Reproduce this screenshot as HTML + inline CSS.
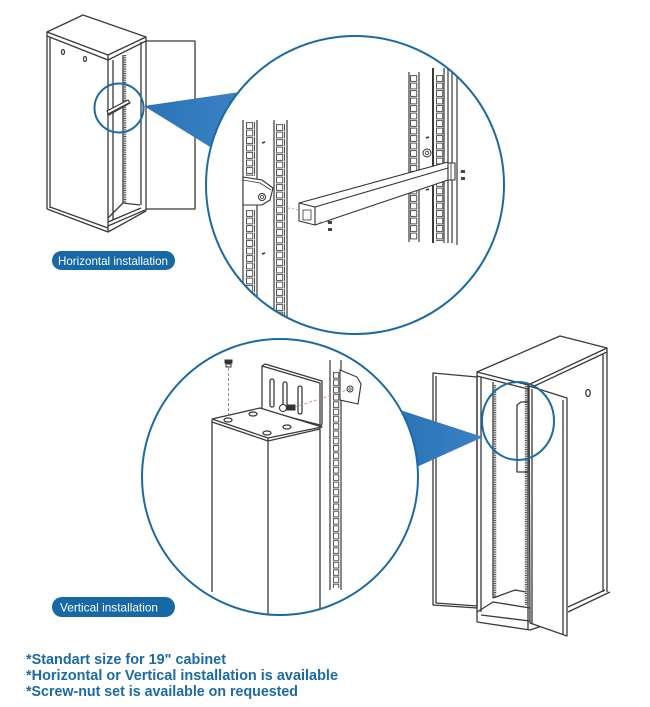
<!DOCTYPE html>
<html><head><meta charset="utf-8"><style>
html,body{margin:0;padding:0;background:#fff;}
svg{display:block;}
</style></head><body>
<svg width="650" height="707" viewBox="0 0 650 707" xmlns="http://www.w3.org/2000/svg">
<defs>
<pattern id="holes" width="8" height="7.5" patternUnits="userSpaceOnUse">
<rect x="0.5" y="0.6" width="6.2" height="5.8" fill="#fff" stroke="#555" stroke-width="1"/>
</pattern>
<pattern id="holes2" width="7" height="7.3" patternUnits="userSpaceOnUse">
<rect x="0.5" y="0.6" width="5.2" height="5.6" fill="#fff" stroke="#555" stroke-width="1"/>
</pattern>
<clipPath id="c1"><circle cx="355" cy="185" r="149"/></clipPath>
<clipPath id="c2"><circle cx="280" cy="477" r="138"/></clipPath>
<linearGradient id="tg" x1="0" y1="0" x2="1" y2="0">
<stop offset="0" stop-color="#2a73b6"/><stop offset="1" stop-color="#3a82c4"/>
</linearGradient>
</defs>

<!-- ========== CABINET 1 ========== -->
<g fill="none" stroke="#3a3a3a" stroke-width="1.3" stroke-linejoin="round">
<polygon points="47,32 83,15 146,37 108,55" fill="#fff"/>
<polyline points="47,36 108,60 146,41"/>
<line x1="47" y1="32" x2="47" y2="209"/>
<line x1="50" y1="38" x2="50" y2="208"/>
<polyline points="47,209 108,232 146,211"/>
<polyline points="50,207 108,228"/>
<line x1="108" y1="55" x2="108" y2="232"/>
<line x1="113" y1="60" x2="113" y2="220"/>
<line x1="146" y1="37" x2="146" y2="211"/>
<line x1="141" y1="42" x2="141" y2="205"/>
<polyline points="108,218 123,203 140,205"/>
<polyline points="108,222 141,208"/>
<polyline points="108,226 145,210"/>
<line x1="123" y1="55" x2="123" y2="203"/>
<polyline points="146,41 195,41 195,209 146,209"/>
<ellipse cx="63" cy="52" rx="1.5" ry="2.5"/>
<ellipse cx="85" cy="59" rx="1.5" ry="2.5"/>
</g>
<line x1="125" y1="55" x2="125" y2="203" stroke="#555" stroke-width="2.5" stroke-dasharray="1 0.8"/>
<g stroke="#333" stroke-width="1.1" fill="#fff">
<polygon points="107,111 128,100 130,103 109,115"/>
<polyline points="108,114 129,103" fill="none"/>
</g>

<polygon points="144,106 240,92 215,150" fill="url(#tg)"/>
<circle cx="119" cy="108" r="24.5" fill="none" stroke="#1b6aa3" stroke-width="2"/>

<!-- ========== TOP BIG CIRCLE ========== -->
<circle cx="355" cy="185" r="149" fill="#fff"/>
<g clip-path="url(#c1)">
<g fill="none" stroke="#3a3a3a" stroke-width="1.2">
<line x1="243" y1="120" x2="243" y2="340"/>
<line x1="257" y1="120" x2="257" y2="340"/>
<line x1="274" y1="120" x2="274" y2="340"/>
<line x1="287" y1="120" x2="287" y2="340"/>
</g>
<g transform="translate(246,122)"><rect width="9" height="54" fill="url(#holes)"/></g>
<g transform="translate(246,210)"><rect width="9" height="120" fill="url(#holes)"/></g>
<g transform="translate(276,124)"><rect width="9" height="210" fill="url(#holes)"/></g>
<polygon points="243,177 262,180 273,188 270,200 262,205 243,205" fill="#fff" stroke="#333" stroke-width="1.1"/>
<polyline points="243,180 260,183 271,190" fill="none" stroke="#333" stroke-width="0.8"/>
<circle cx="262" cy="197" r="3.5" fill="#fff" stroke="#333" stroke-width="1"/>
<circle cx="262" cy="197" r="1.5" fill="none" stroke="#333" stroke-width="0.8"/>
<g stroke="#333" stroke-width="1.6">
<line x1="262" y1="143" x2="265" y2="142"/>
<line x1="262" y1="254" x2="265" y2="253"/>
<line x1="426" y1="138" x2="429" y2="137"/>
<line x1="426" y1="190" x2="429" y2="189"/>
</g>
<g fill="none" stroke="#3a3a3a" stroke-width="1.2">
<line x1="409" y1="72" x2="409" y2="242"/>
<line x1="419" y1="72" x2="419" y2="242"/>
<line x1="433" y1="68" x2="433" y2="243" stroke-width="2"/>
<line x1="444" y1="68" x2="444" y2="243"/>
<line x1="448" y1="66" x2="448" y2="243"/>
<line x1="452" y1="66" x2="452" y2="243"/>
<line x1="457" y1="60" x2="457" y2="245"/>
</g>
<g transform="translate(410,75)"><rect width="8" height="165" fill="url(#holes)"/></g>
<g transform="translate(436,75)"><rect width="8" height="166" fill="url(#holes)"/></g>
<circle cx="427" cy="153" r="4" fill="#fff" stroke="#333" stroke-width="1"/>
<circle cx="427" cy="153" r="1.8" fill="none" stroke="#333" stroke-width="0.8"/>
<g stroke="#333" stroke-width="1.1" stroke-linejoin="round">
<polygon points="299,203 448,162 448,180 315,225 299,221" fill="#fff"/>
<line x1="315" y1="207" x2="448" y2="168"/>
<line x1="299" y1="203" x2="315" y2="207"/>
<line x1="315" y1="207" x2="315" y2="225"/>
<rect x="303" y="210" width="8" height="10" fill="#fff" stroke-width="0.8"/>
<rect x="448" y="163" width="7" height="17" fill="#fff"/>
<line x1="451" y1="163" x2="451" y2="180" stroke-width="0.8"/>
</g>
<g stroke="#999" stroke-width="0.7" stroke-dasharray="2 2">
<line x1="288" y1="208" x2="300" y2="210"/>
<line x1="455" y1="172" x2="462" y2="172"/>
<line x1="315" y1="222" x2="328" y2="222"/>
</g>
<g fill="#444">
<rect x="461" y="170" width="4" height="3"/><rect x="461" y="177" width="4" height="3"/>
<rect x="328" y="221" width="4" height="3"/><rect x="328" y="228" width="4" height="3"/>
</g>
</g>
<circle cx="355" cy="185" r="149" fill="none" stroke="#1b6aa3" stroke-width="2"/>

<rect x="52" y="251" width="123" height="19" rx="9.5" fill="#1668a6"/>
<text x="58" y="265" font-family="Liberation Sans, sans-serif" font-size="12" fill="#fff" textLength="110" lengthAdjust="spacingAndGlyphs">Horizontal installation</text>

<!-- ========== CABINET 2 ========== -->
<g fill="none" stroke="#3a3a3a" stroke-width="1.3" stroke-linejoin="round">
<polygon points="433,373 477,377 477,608 433,605" fill="#fff"/>
<polyline points="436,376 436,603 477,606"/>
<polygon points="477,372 560,336 607,348 528,385" fill="#fff"/>
<polyline points="477,376 528,389 607,352"/>
<line x1="607" y1="348" x2="607" y2="592"/>
<line x1="603" y1="354" x2="603" y2="592"/>
<polyline points="568,612 610,592"/>
<polyline points="568,607 605,590"/>
<line x1="477" y1="372" x2="477" y2="622"/>
<line x1="481" y1="377" x2="481" y2="612"/>
<line x1="493" y1="382" x2="493" y2="598"/>
<line x1="528" y1="385" x2="528" y2="630"/>
<polyline points="477,612 493,602 530,608"/>
<polyline points="481,615 530,621"/>
<polyline points="477,622 530,630 545,625"/>
<polyline points="493,598 515,590 526,592"/>
<polygon points="529,386 567,398 567,636 530,623" fill="#fff"/>
<polyline points="532,389 532,624"/>
<line x1="563" y1="400" x2="563" y2="634"/>
<polygon points="517,405 521,402 528,402 528,472 517,472" fill="#fff"/>
<ellipse cx="588" cy="393" rx="2.2" ry="3.5"/>
</g>
<line x1="495" y1="385" x2="495" y2="598" stroke="#555" stroke-width="2.5" stroke-dasharray="1 0.8"/>
<line x1="526" y1="386" x2="526" y2="605" stroke="#555" stroke-width="2.5" stroke-dasharray="1 0.8"/>

<polygon points="483,437 400,410 410,470" fill="url(#tg)"/>
<ellipse cx="518" cy="421" rx="36" ry="39" fill="none" stroke="#1b6aa3" stroke-width="2"/>

<!-- ========== BOTTOM BIG CIRCLE ========== -->
<circle cx="280" cy="477" r="138" fill="#fff"/>
<g clip-path="url(#c2)">
<g fill="none" stroke="#3a3a3a" stroke-width="1.2">
<line x1="330" y1="360" x2="330" y2="590"/>
<line x1="341" y1="360" x2="341" y2="590"/>
</g>
<g transform="translate(333,372)"><rect width="7" height="216" fill="url(#holes2)"/></g>
<polygon points="340,370 357,377 361,384 358,404 340,400" fill="#fff" stroke="#333" stroke-width="1.1"/>
<circle cx="350" cy="389" r="3" fill="none" stroke="#333" stroke-width="0.9"/>
<circle cx="350" cy="389" r="1.2" fill="none" stroke="#333" stroke-width="0.7"/>
<g fill="none" stroke="#3a3a3a" stroke-width="1.3" stroke-linejoin="round">
<line x1="212" y1="420" x2="212" y2="592"/>
<line x1="268" y1="438" x2="268" y2="620"/>
<line x1="320" y1="427" x2="320" y2="620"/>
<polygon points="262,366 320,383 320,425 262,410" fill="#fff"/>
<polyline points="262,366 265,364 322,381 322,424 320,427"/>
<rect x="270" y="379" width="4" height="28" rx="2"/>
<rect x="283" y="382" width="4" height="28" rx="2"/>
<rect x="298" y="386" width="4" height="28" rx="2"/>
<polygon points="212,419 260,408 322,427 268,438" fill="#fff"/>
<polyline points="212,422 268,441 320,429"/>
<ellipse cx="228" cy="420" rx="4" ry="2"/>
<ellipse cx="253" cy="414" rx="4" ry="2"/>
<ellipse cx="267" cy="433" rx="4" ry="2"/>
<ellipse cx="287" cy="427" rx="4" ry="2"/>
</g>
<g stroke="#333" stroke-width="1">
<rect x="225" y="360" width="7" height="3" fill="#333"/>
<rect x="226" y="364" width="5" height="3" fill="#fff"/>
<line x1="228.5" y1="368" x2="228.5" y2="416" stroke="#777" stroke-dasharray="3 2" stroke-width="0.8"/>
<circle cx="283" cy="408" r="3.5" fill="#fff"/>
<rect x="287" y="405" width="8" height="5" fill="#333"/>
<line x1="295" y1="407" x2="347" y2="390" stroke="#c77" stroke-dasharray="3 2" stroke-width="0.8"/>
</g>
</g>
<circle cx="280" cy="477" r="138" fill="none" stroke="#1b6aa3" stroke-width="2"/>

<rect x="52" y="597" width="123" height="20" rx="10" fill="#1668a6"/>
<text x="60" y="611.5" font-family="Liberation Sans, sans-serif" font-size="12" fill="#fff" textLength="98" lengthAdjust="spacingAndGlyphs">Vertical installation</text>

<g font-family="Liberation Sans, sans-serif" font-size="14.5" font-weight="bold" fill="#1b6aa5">
<text x="26" y="664" textLength="200" lengthAdjust="spacingAndGlyphs">*Standart size for 19" cabinet</text>
<text x="26" y="680" textLength="312" lengthAdjust="spacingAndGlyphs">*Horizontal or Vertical installation is available</text>
<text x="26" y="696" textLength="272" lengthAdjust="spacingAndGlyphs">*Screw-nut set is available on requested</text>
</g>
</svg>
</body></html>
